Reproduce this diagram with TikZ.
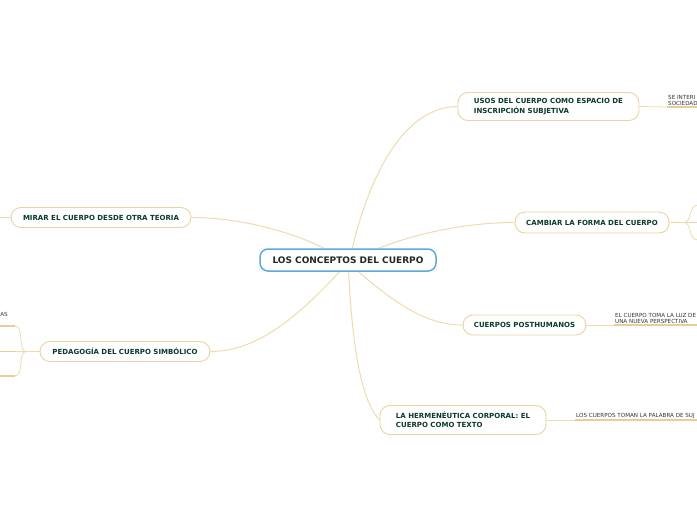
\documentclass[tikz,border=0pt]{standalone}
\usepackage{fontspec}
\setmainfont{DejaVu Sans}
\usetikzlibrary{backgrounds}
\definecolor{tanl}{HTML}{EFDAAE}
\definecolor{tanb}{HTML}{EBD3A2}
\definecolor{tanu}{HTML}{E9CD97}
\definecolor{blueb}{HTML}{5DA9DD}
\definecolor{tgreen}{HTML}{0A3A2A}
\definecolor{sgray}{HTML}{333333}
\begin{document}
\begin{tikzpicture}[x=1pt,y=-1pt,
  central/.style={draw=blueb, line width=1.5pt, rounded corners=8pt, fill=white,
    minimum width=176pt, minimum height=22pt, inner sep=0pt,
    font=\fontsize{9}{10}\selectfont\bfseries, text=black!85},
  topic/.style={draw=tanb, line width=0.9pt, rounded corners=10pt, fill=white,
    inner sep=0pt, align=left,
    font=\fontsize{7}{9.2}\selectfont\bfseries, text=tgreen},
  sub/.style={inner sep=1pt, align=left, anchor=south west,
    font=\fontsize{5.6}{6.4}\selectfont, text=sgray},
  conn/.style={draw=tanl, line width=1pt},
  under/.style={draw=tanu, line width=1.8pt},
]
\useasboundingbox (0,0) rectangle (697,520);

% nodes
\node[central] (c) at (348,260) {LOS CONCEPTOS DEL CUERPO};
\node[topic, minimum width=181pt, minimum height=28pt] (u) at (548.5,106.5) {USOS DEL CUERPO COMO ESPACIO DE\\INSCRIPCIÓN SUBJETIVA};
\node[topic, minimum width=154pt, minimum height=21pt] (ca) at (592,222.5) {CAMBIAR LA FORMA DEL CUERPO};
\node[topic, minimum width=123pt, minimum height=20pt] (po) at (524.5,325) {CUERPOS POSTHUMANOS};
\node[topic, minimum width=166pt, minimum height=29pt] (he) at (463,420) {LA HERMENÉUTICA CORPORAL: EL\\CUERPO COMO TEXTO};
\node[topic, minimum width=180pt, minimum height=20pt] (mi) at (101,217.5) {MIRAR EL CUERPO DESDE OTRA TEORIA};
\node[topic, minimum width=170pt, minimum height=20pt] (pe) at (125,351.5) {PEDAGOGÍA DEL CUERPO SIMBÓLICO};

% sub-topics
\node[sub] (su) at (667,107) {SE INTERI\\SOCIEDAD};
\node[sub] (sp) at (614,325) {EL CUERPO TOMA LA LUZ DE\\UNA NUEVA PERSPECTIVA};
\node[sub] (sh) at (575,420) {LOS CUERPOS TOMAN LA PALABRA DE SUJ};
\node[sub, anchor=south east, inner sep=0pt] (pa) at (8,317) {AS};

\coordinate (cab) at (684,222.5);
\coordinate (ca1) at (698,205);
\coordinate (ca2) at (698,222.5);
\coordinate (ca3) at (698,240);
\coordinate (peb) at (26,351.5);
\coordinate (pe1) at (15,326);
\coordinate (pe2) at (15,351.5);
\coordinate (pe3) at (15,376);
\coordinate (mie) at (-2,217.5);

\begin{scope}[on background layer]
  \draw[conn] (c.70) .. controls (366,190) and (398,107) .. (u.west);
  \draw[conn] (c.21) .. controls (420,232) and (470,222.5) .. (ca.west);
  \draw[conn] (c.312) .. controls (400,308) and (430,325) .. (po.west);
  \draw[conn] (c.273) .. controls (352,340) and (360,400) .. (he.west);
  \draw[conn] (c.154) .. controls (292,232) and (240,217.5) .. (mi.east);
  \draw[conn] (c.234) .. controls (295,320) and (255,351.5) .. (pe.east);

  % sub connectors
  \draw[conn, line width=0.8pt] (u.east) -- (su.south west);
  \draw[under] (su.south west) -- ++(40,0);
  \draw[conn, line width=0.8pt] (po.east) -- (sp.south west);
  \draw[under] (sp.south west) -- ++(90,0);
  \draw[conn, line width=0.8pt] (he.east) -- (sh.south west);
  \draw[under] (sh.south west) -- ++(130,0);

  \draw[conn, line width=0.8pt] (ca.east) -- (cab);
  \draw[conn, line width=0.8pt] (cab) .. controls (692,222.5) and (688,205) .. (ca1);
  \draw[conn, line width=0.8pt] (cab) -- (ca2);
  \draw[conn, line width=0.8pt] (cab) .. controls (692,222.5) and (688,240) .. (ca3);

  \draw[conn, line width=0.8pt] (pe.west) -- (peb);
  \draw[conn, line width=0.8pt] (peb) .. controls (18,351.5) and (24,326) .. (pe1);
  \draw[conn, line width=0.8pt] (peb) -- (pe2);
  \draw[conn, line width=0.8pt] (peb) .. controls (18,351.5) and (24,376) .. (pe3);
  \draw[under] (pe1) -- ++(-20,0);
  \draw[under] (pe2) -- ++(-20,0);
  \draw[under] (pe3) -- ++(-20,0);

  \draw[conn, line width=0.8pt] (mi.west) -- (mie);
\end{scope}
\end{tikzpicture}
\end{document}
